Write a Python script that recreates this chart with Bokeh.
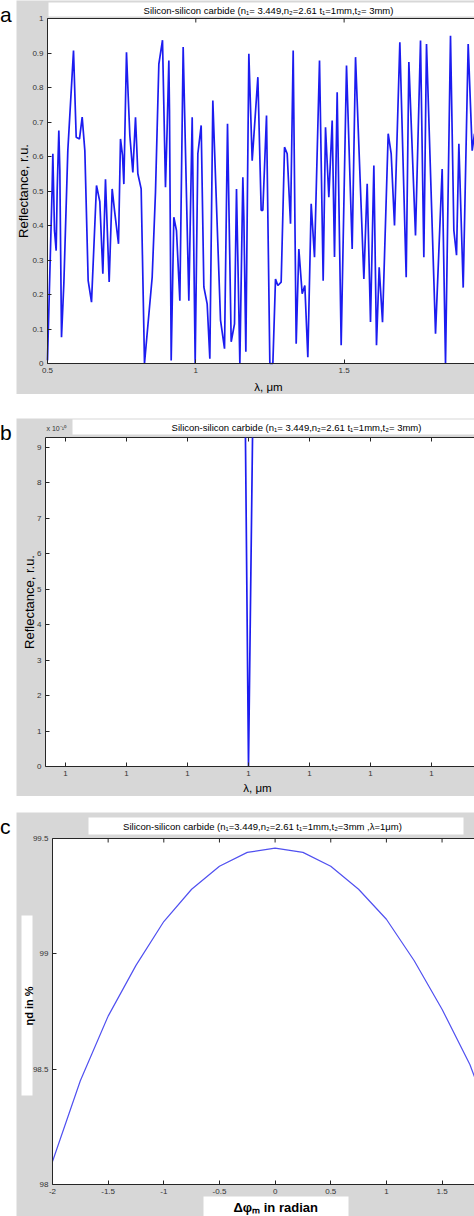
import math
from bokeh.plotting import figure
from bokeh.models import Range1d, FixedTicker, Label, BoxAnnotation, Div, Spacer, CustomJSTickFormatter
from bokeh.layouts import column, row
from bokeh.embed import file_html
from bokeh.resources import INLINE

# ---------------- data ----------------
# panel a: reflectance vs wavelength (um)
lam_a = [0.500, 0.5157, 0.518, 0.5236, 0.5292, 0.5326, 0.5382, 0.5416, 0.5472, 0.5551,
         0.5685, 0.5877, 0.5967, 0.6079, 0.6169, 0.6259, 0.6371, 0.6484, 0.6652, 0.6764,
         0.6866, 0.6955, 0.7079, 0.7180, 0.7259, 0.7394, 0.7461, 0.7529, 0.7574, 0.7663,
         0.7720, 0.7776, 0.7877, 0.7967, 0.8046, 0.8158, 0.8270, 0.8529, 0.8641, 0.8754,
         0.8877, 0.8978, 0.9035, 0.9091, 0.9113, 0.9170, 0.9259, 0.9349, 0.9462, 0.9574,
         0.9765, 0.9878, 0.9979, 1.0069, 1.0181, 1.0271, 1.0383, 1.0473, 1.0574, 1.0833,
         1.0968, 1.1069, 1.1193, 1.1305, 1.1372, 1.1485, 1.1586, 1.1620, 1.1687, 1.1788,
         1.1901, 1.2092, 1.2204, 1.2260, 1.2384, 1.2496, 1.2598, 1.2687, 1.2766, 1.2878,
         1.2991, 1.3081, 1.3193, 1.3283, 1.3384, 1.3474, 1.3586, 1.3676, 1.3777, 1.3890,
         1.4002, 1.4171,
         1.4294, 1.4373, 1.4485, 1.4598, 1.4676, 1.4766, 1.4901, 1.5081, 1.5272, 1.5385,
         1.5666, 1.5778, 1.5890, 1.6003, 1.6092, 1.6182, 1.6295, 1.6486, 1.6587, 1.6699,
         1.6879, 1.7093, 1.7183, 1.7407, 1.7576, 1.7688, 1.7778, 1.8082, 1.8306, 1.8419,
         1.8587, 1.8700, 1.8790, 1.8869, 1.9015, 1.9183, 1.9318, 1.9396]
refl_a = [0.009, 0.512, 0.608, 0.385, 0.327, 0.501, 0.675, 0.560, 0.076, 0.231,
          0.617, 0.907, 0.656, 0.651, 0.714, 0.617, 0.240, 0.178, 0.516, 0.469,
          0.260, 0.534, 0.236, 0.506, 0.444, 0.347, 0.651, 0.603, 0.520, 0.902,
          0.777, 0.661, 0.554, 0.714, 0.550, 0.506, 0.0, 0.250, 0.497, 0.868,
          0.937, 0.511, 0.685, 0.878, 0.733, 0.009, 0.424, 0.385, 0.182, 0.917,
          0.182, 0.714, 0.0, 0.608, 0.690, 0.222, 0.173, 0.014, 0.762, 0.126,
          0.043, 0.695, 0.063, 0.115, 0.506, 0.0, 0.540, 0.424, 0.034, 0.898,
          0.588, 0.830, 0.444, 0.444, 0.719, 0.0, 0.0, 0.245, 0.226, 0.236,
          0.627, 0.608, 0.405, 0.907, 0.057, 0.332, 0.202, 0.226, 0.018, 0.463,
          0.308, 0.878,
          0.240, 0.685, 0.482, 0.704, 0.309, 0.786, 0.053, 0.864, 0.332, 0.888,
          0.245, 0.521, 0.120, 0.574, 0.053, 0.279, 0.120, 0.666, 0.608, 0.400,
          0.931, 0.250, 0.874, 0.371, 0.936, 0.308, 0.926, 0.086, 0.564, 0.0,
          0.950, 0.386, 0.314, 0.637, 0.220, 0.926, 0.617, 0.666]
ticks_a_x = [0.5, 1.0, 1.5, 2.0]
ticks_a_y = [0, 0.1, 0.2, 0.3, 0.4, 0.5, 0.6, 0.7, 0.8, 0.9, 1]

# panel b: zoom around 1 um (x 10^-10 reflectance)
lam_b = [0.99999995, 1.0, 1.000000066]
refl_b = [9.27, 0.0, 9.27]
ticks_b_x = [0.999997, 0.999998, 0.999999, 1.0, 1.000001, 1.000002, 1.000003]
ticks_b_y = [0, 1, 2, 3, 4, 5, 6, 7, 8, 9]

# panel c: diffraction efficiency vs phase mismatch
dphi_c = [-2.0, -1.75, -1.5, -1.25, -1.0, -0.75, -0.5, -0.25, 0.0,
          0.25, 0.5, 0.75, 1.0, 1.25, 1.5, 1.75, 2.0]
eta_c = [98.10, 98.45, 98.73, 98.95, 99.14, 99.28, 99.38, 99.44, 99.458,
         99.44, 99.38, 99.28, 99.15, 98.97, 98.76, 98.52, 98.20]
ticks_c_x = [-2, -1.5, -1, -0.5, 0, 0.5, 1, 1.5]
ticks_c_y = [98, 98.5, 99, 99.5]

title_ab = "Silicon-silicon carbide (n\u2081= 3.449,n\u2082=2.61 t\u2081=1mm,t\u2082= 3mm)"
title_c = "Silicon-silicon carbide (n\u2081=3.449,n\u2082=2.61 t\u2081=1mm,t\u2082=3mm ,\u03bb=1\u03bcm)"

# ---------------- styling ----------------
GRAY = "#d7d7d7"
FONT = "Liberation Sans"
AX = "#262626"
FIG_L, FIG_R = 16, 474


class Panel:
    """One MATLAB-like panel; the whole figure is the frame, the axes box is drawn inside."""

    def __init__(self, top, height, pl, pr, pt, pb, xlim, ylim):
        self.pl, self.pr, self.pt, self.pb = pl, pr, pt, pb
        self.xlim, self.ylim = xlim, ylim
        self.sx = (xlim[1] - xlim[0]) / (pr - pl)
        self.sy = (ylim[1] - ylim[0]) / (pb - pt)
        self.p = figure(width=FIG_R - FIG_L, height=height,
                        x_range=Range1d(self.x(FIG_L), self.x(FIG_R)),
                        y_range=Range1d(self.y(top + height), self.y(top)),
                        output_backend="svg", toolbar_location=None,
                        min_border_left=0, min_border_right=0,
                        min_border_top=0, min_border_bottom=0)

    def x(self, px):
        return self.xlim[0] + (px - self.pl) * self.sx

    def y(self, py):
        return self.ylim[0] + (self.pb - py) * self.sy

    def box(self, l, r, t, b):
        self.p.add_layout(BoxAnnotation(left=self.x(l), right=self.x(r), top=self.y(t), bottom=self.y(b),
                                        fill_color="white", fill_alpha=1.0, line_color=None))

    def label(self, px, py, text, size, angle=0.0, align="center", style="normal", color="black"):
        self.p.add_layout(Label(x=self.x(px), y=self.y(py), text=text, angle=angle,
                                text_align=align, text_baseline="middle",
                                text_font=FONT, text_font_size=size, text_font_style=style,
                                text_color=color))

    def style(self, tx, ty, xfmt=None):
        p = self.p
        x0, x1 = self.xlim
        y0, y1 = self.ylim
        p.background_fill_color = GRAY
        p.border_fill_color = GRAY
        p.outline_line_color = None
        p.grid.visible = False
        # axes box
        p.quad(left=[x0], right=[x1], bottom=[y0], top=[y1], fill_color="white", line_color=None)
        p.segment(x0=[x0], y0=[y1], x1=[x1], y1=[y1], line_color=AX, line_width=1)
        fmt = CustomJSTickFormatter(code="return tick.toString();")
        xa, ya = p.xaxis[0], p.yaxis[0]
        xa.ticker = FixedTicker(ticks=tx)
        ya.ticker = FixedTicker(ticks=ty)
        xa.fixed_location = y0
        ya.fixed_location = x0
        xa.bounds = (x0, x1)
        ya.bounds = (y0, y1)
        xa.formatter = xfmt if xfmt is not None else fmt
        ya.formatter = fmt
        for ax in (xa, ya):
            ax.major_tick_in = 4
            ax.major_tick_out = 0
            ax.minor_tick_line_color = None
            ax.axis_line_color = AX
            ax.major_tick_line_color = AX
            ax.major_label_text_font = FONT
            ax.major_label_text_font_size = "8px"
            ax.major_label_text_color = "#333333"
            ax.major_label_standoff = 4
        # mirrored ticks on the top edge
        xs = [t for t in tx if x0 < t < x1]
        ylow = self.y(self.pt + 4)
        p.segment(x0=xs, y0=[y1] * len(xs), x1=xs, y1=[ylow] * len(xs), line_color=AX, line_width=1)


# ---------------- panel a ----------------
A = Panel(top=0, height=394, pl=47, pr=474, pt=18, pb=363, xlim=(0.5, 1.9396), ylim=(0, 1))
A.style(ticks_a_x, ticks_a_y)
A.p.line(lam_a, refl_a, line_color="#1c1cf0", line_width=1.7)
A.box(48, 480, 2, 16)
A.label(268, 9.5, title_ab, "9.5px")
A.label(23, 190.5, "Reflectance, r.u.", "13px", angle=math.pi / 2)
A.label(268, 386, "\u03bb, \u03bcm", "11.5px")

# ---------------- panel b ----------------
d = 1e-6
B = Panel(top=418, height=378, pl=45, pr=474, pt=437, pb=766,
          xlim=(1 - 203 / 61 * d, 1 + 226 / 61 * d), ylim=(0, 329 / 35.5))
B.style(ticks_b_x, ticks_b_y, xfmt=CustomJSTickFormatter(code="return '1';"))
B.p.line(lam_b, refl_b, line_color="#1c1cf0", line_width=1.7)
B.box(72, 480, 419, 434)
B.label(296, 426.5, title_ab, "9.5px")
B.label(46, 428, "x 10\u207b\u00b9\u2070", "7px", align="left", color="#333333")
B.label(29, 601.5, "Reflectance, r.u.", "13px", angle=math.pi / 2)
B.label(257, 787, "\u03bb, \u03bcm", "11.5px")

# ---------------- panel c ----------------
C = Panel(top=812, height=404, pl=52, pr=474, pt=838, pb=1184,
          xlim=(-2, -2 + 422 / 111.3), ylim=(98, 99.5))
C.style(ticks_c_x, ticks_c_y)
C.p.line(dphi_c, eta_c, line_color="#5050f0", line_width=1.2)
C.box(88, 463, 817, 834)
C.label(262, 826, title_c, "9.5px")
C.box(21, 32, 915, 1095)
C.label(28, 1004, "\u03b7d  in %", "11px", angle=math.pi / 2, style="bold")
C.box(203, 348, 1196, 1230)
C.label(277, 1207, "\u0394\u03c6\u2098  in radian", "13px", style="bold")


def letter(ch):
    return Div(text='<span style="font-family:Liberation Sans,Arial;font-size:21px;color:black;">%s</span>' % ch,
               width=16, height=24, margin=0)


layout = column(
    row(letter("a"), A.p),
    Spacer(width=474, height=24),
    row(letter("b"), B.p),
    Spacer(width=474, height=16),
    row(letter("c"), C.p),
)

p = layout
open("out.html", "w").write(file_html(p, INLINE))
